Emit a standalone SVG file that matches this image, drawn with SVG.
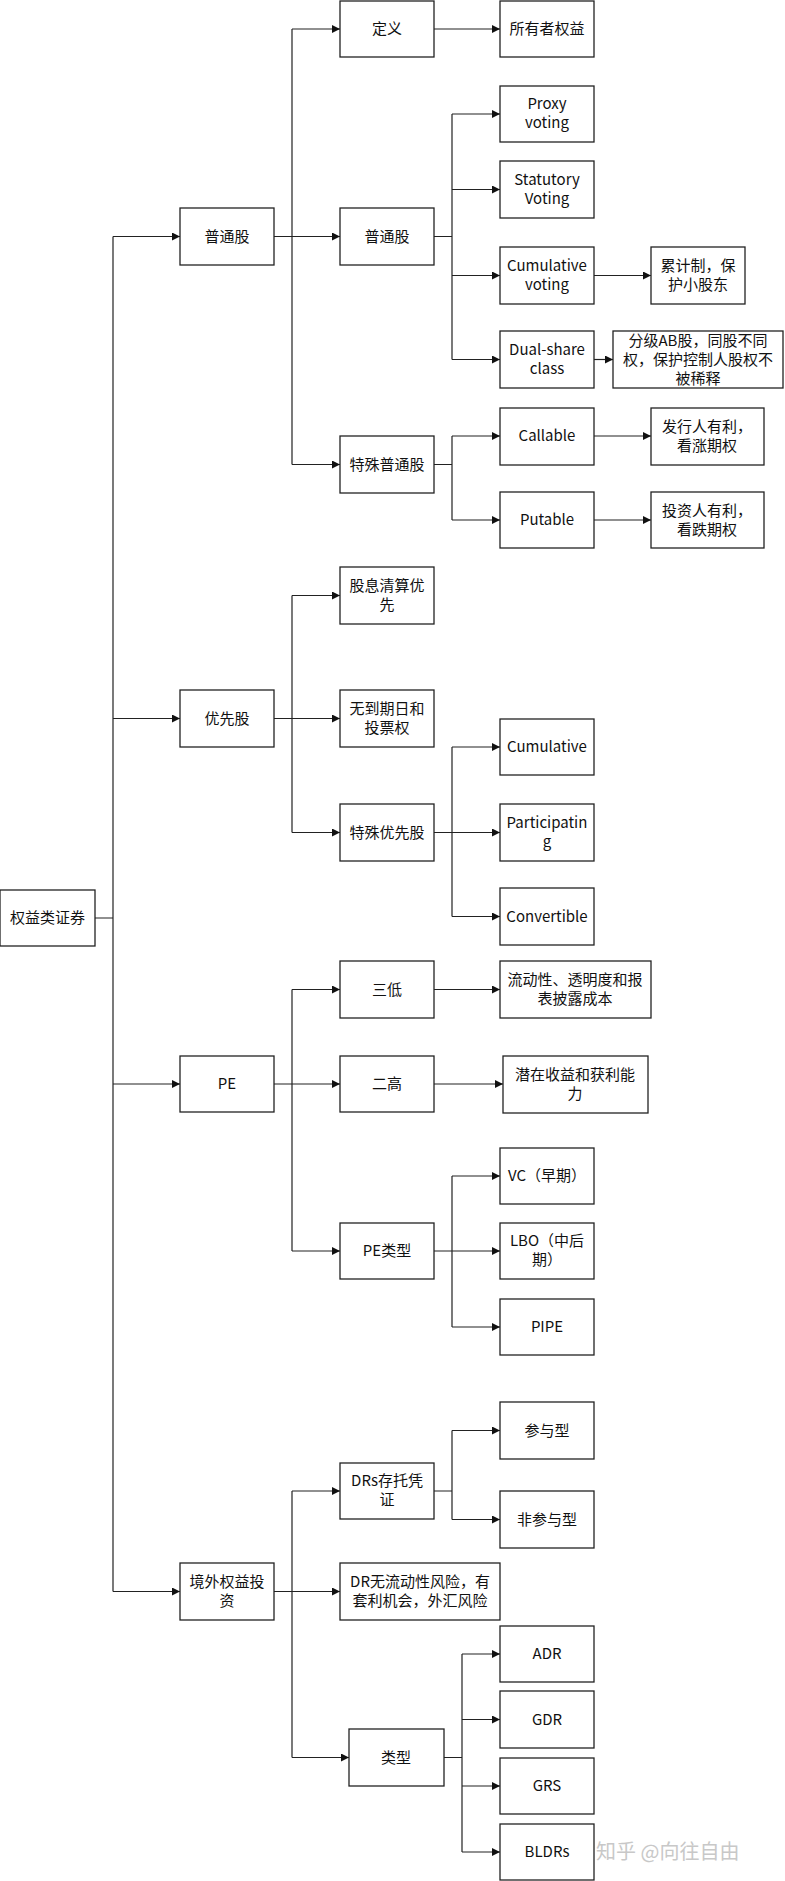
<svg xmlns="http://www.w3.org/2000/svg" width="785" height="1881" viewBox="0 0 785 1881">
<style>
rect{fill:#fff;stroke:#222;stroke-width:1.3}
text{font-family:"Microsoft YaHei","Noto Sans CJK SC","Noto Sans",sans-serif;font-size:15px;fill:#111;text-anchor:middle}
.c path{fill:none;stroke:#222;stroke-width:1.2}
.wm{fill:#c8c8c8;font-size:20px;text-anchor:start}
</style>
<defs><marker id="a" viewBox="0 0 10 10" refX="10" refY="5" markerWidth="8" markerHeight="8" markerUnits="userSpaceOnUse" orient="auto"><path d="M0,0L10,5L0,10z" fill="#111"/></marker></defs>
<rect x="-10" y="-10" width="805" height="1901" style="stroke:none"/>
<g class="c">
<path d="M95,918H113M113,236.5V1591.5"/>
<path d="M113,236.5H180" marker-end="url(#a)"/><path d="M113,718.5H180" marker-end="url(#a)"/><path d="M113,1084H180" marker-end="url(#a)"/><path d="M113,1591.5H180" marker-end="url(#a)"/>
<path d="M274,236.5H292M292,29V464.5"/>
<path d="M292,29H340" marker-end="url(#a)"/><path d="M292,236.5H340" marker-end="url(#a)"/><path d="M292,464.5H340" marker-end="url(#a)"/>
<path d="M434,29H500" marker-end="url(#a)"/>
<path d="M434,236.5H452M452,114V359.5"/>
<path d="M452,114H500" marker-end="url(#a)"/><path d="M452,189.5H500" marker-end="url(#a)"/><path d="M452,275.5H500" marker-end="url(#a)"/><path d="M452,359.5H500" marker-end="url(#a)"/>
<path d="M594,275.5H651" marker-end="url(#a)"/><path d="M594,359.5H613" marker-end="url(#a)"/>
<path d="M434,464.5H452M452,436V520"/>
<path d="M452,436H500" marker-end="url(#a)"/><path d="M452,520H500" marker-end="url(#a)"/>
<path d="M594,436H651" marker-end="url(#a)"/><path d="M594,520H651" marker-end="url(#a)"/>
<path d="M274,718.5H292M292,595.5V832.5"/>
<path d="M292,595.5H340" marker-end="url(#a)"/><path d="M292,718.5H340" marker-end="url(#a)"/><path d="M292,832.5H340" marker-end="url(#a)"/>
<path d="M434,832.5H452M452,747V916.5"/>
<path d="M452,747H500" marker-end="url(#a)"/><path d="M452,832.5H500" marker-end="url(#a)"/><path d="M452,916.5H500" marker-end="url(#a)"/>
<path d="M274,1084H292M292,989.5V1251"/>
<path d="M292,989.5H340" marker-end="url(#a)"/><path d="M292,1084H340" marker-end="url(#a)"/><path d="M292,1251H340" marker-end="url(#a)"/>
<path d="M434,989.5H500" marker-end="url(#a)"/><path d="M434,1084H503" marker-end="url(#a)"/>
<path d="M434,1251H452M452,1176V1327"/>
<path d="M452,1176H500" marker-end="url(#a)"/><path d="M452,1251H500" marker-end="url(#a)"/><path d="M452,1327H500" marker-end="url(#a)"/>
<path d="M274,1591.5H292M292,1491V1757.5"/>
<path d="M292,1491H340" marker-end="url(#a)"/><path d="M292,1591.5H340" marker-end="url(#a)"/><path d="M292,1757.5H349" marker-end="url(#a)"/>
<path d="M434,1491H452M452,1430.5V1519.5"/>
<path d="M452,1430.5H500" marker-end="url(#a)"/><path d="M452,1519.5H500" marker-end="url(#a)"/>
<path d="M444,1757.5H462M462,1654V1852"/>
<path d="M462,1654H500" marker-end="url(#a)"/><path d="M462,1719.5H500" marker-end="url(#a)"/><path d="M462,1786H500" marker-end="url(#a)"/><path d="M462,1852H500" marker-end="url(#a)"/>
</g>
<g id="root"><rect x="0" y="890" width="95" height="56"/><text x="47.5" y="923">权益类证券</text></g>
<g id="n1"><rect x="180" y="208" width="94" height="57"/><text x="227" y="242">普通股</text></g>
<g id="n11"><rect x="340" y="1" width="94" height="56"/><text x="387" y="34">定义</text></g>
<g id="n111"><rect x="500" y="1" width="94" height="56"/><text x="547" y="34">所有者权益</text></g>
<g id="n12"><rect x="340" y="208" width="94" height="57"/><text x="387" y="242">普通股</text></g>
<g id="proxy"><rect x="500" y="86" width="94" height="56"/><text x="547" y="109">Proxy</text><text x="547" y="128">voting</text></g>
<g id="stat"><rect x="500" y="161" width="94" height="57"/><text x="547" y="185">Statutory</text><text x="547" y="204">Voting</text></g>
<g id="cumv"><rect x="500" y="247" width="94" height="57"/><text x="547" y="271">Cumulative</text><text x="547" y="290">voting</text></g>
<g id="cumv2"><rect x="651" y="247" width="94" height="57"/><text x="698" y="271">累计制，保</text><text x="698" y="290">护小股东</text></g>
<g id="dual"><rect x="500" y="331" width="94" height="57"/><text x="547" y="355">Dual-share</text><text x="547" y="374">class</text></g>
<g id="dual2"><rect x="613" y="331" width="170" height="57"/><text x="698" y="346">分级AB股，同股不同</text><text x="698" y="365">权，保护控制人股权不</text><text x="698" y="384">被稀释</text></g>
<g id="n13"><rect x="340" y="436" width="94" height="57"/><text x="387" y="470">特殊普通股</text></g>
<g id="call"><rect x="500" y="408" width="94" height="57"/><text x="547" y="441">Callable</text></g>
<g id="call2"><rect x="651" y="408" width="113" height="57"/><text x="707" y="432">发行人有利，</text><text x="707" y="451">看涨期权</text></g>
<g id="put"><rect x="500" y="492" width="94" height="56"/><text x="547" y="525">Putable</text></g>
<g id="put2"><rect x="651" y="492" width="113" height="56"/><text x="707" y="516">投资人有利，</text><text x="707" y="535">看跌期权</text></g>
<g id="n2"><rect x="180" y="690" width="94" height="57"/><text x="227" y="724">优先股</text></g>
<g id="n21"><rect x="340" y="567" width="94" height="57"/><text x="387" y="591">股息清算优</text><text x="387" y="610">先</text></g>
<g id="n22"><rect x="340" y="690" width="94" height="57"/><text x="387" y="714">无到期日和</text><text x="387" y="733">投票权</text></g>
<g id="n23"><rect x="340" y="804" width="94" height="57"/><text x="387" y="838">特殊优先股</text></g>
<g id="pcum"><rect x="500" y="719" width="94" height="56"/><text x="547" y="752">Cumulative</text></g>
<g id="ppar"><rect x="500" y="804" width="94" height="57"/><text x="547" y="828">Participatin</text><text x="547" y="847">g</text></g>
<g id="pconv"><rect x="500" y="888" width="94" height="57"/><text x="547" y="922">Convertible</text></g>
<g id="n3"><rect x="180" y="1056" width="94" height="56"/><text x="227" y="1089">PE</text></g>
<g id="n31"><rect x="340" y="961" width="94" height="57"/><text x="387" y="995">三低</text></g>
<g id="n311"><rect x="500" y="961" width="151" height="57"/><text x="575" y="985">流动性、透明度和报</text><text x="575" y="1004">表披露成本</text></g>
<g id="n32"><rect x="340" y="1056" width="94" height="56"/><text x="387" y="1089">二高</text></g>
<g id="n321"><rect x="503" y="1056" width="145" height="57"/><text x="575" y="1080">潜在收益和获利能</text><text x="575" y="1099">力</text></g>
<g id="n33"><rect x="340" y="1223" width="94" height="56"/><text x="387" y="1256">PE类型</text></g>
<g id="vc"><rect x="500" y="1148" width="94" height="56"/><text x="547" y="1181">VC（早期）</text></g>
<g id="lbo"><rect x="500" y="1223" width="94" height="56"/><text x="547" y="1246">LBO（中后</text><text x="547" y="1265">期）</text></g>
<g id="pipe"><rect x="500" y="1299" width="94" height="56"/><text x="547" y="1332">PIPE</text></g>
<g id="n4"><rect x="180" y="1563" width="94" height="57"/><text x="227" y="1587">境外权益投</text><text x="227" y="1606">资</text></g>
<g id="n41"><rect x="340" y="1463" width="94" height="56"/><text x="387" y="1486">DRs存托凭</text><text x="387" y="1505">证</text></g>
<g id="n411"><rect x="500" y="1402" width="94" height="57"/><text x="547" y="1436">参与型</text></g>
<g id="n412"><rect x="500" y="1491" width="94" height="57"/><text x="547" y="1525">非参与型</text></g>
<g id="n42"><rect x="340" y="1563" width="160" height="57"/><text x="420" y="1587">DR无流动性风险，有</text><text x="420" y="1606">套利机会，外汇风险</text></g>
<g id="n43"><rect x="349" y="1729" width="95" height="57"/><text x="396" y="1763">类型</text></g>
<g id="adr"><rect x="500" y="1626" width="94" height="56"/><text x="547" y="1659">ADR</text></g>
<g id="gdr"><rect x="500" y="1691" width="94" height="57"/><text x="547" y="1725">GDR</text></g>
<g id="grs"><rect x="500" y="1758" width="94" height="56"/><text x="547" y="1791">GRS</text></g>
<g id="bldr"><rect x="500" y="1824" width="94" height="56"/><text x="547" y="1857">BLDRs</text></g>
<text class="wm" x="596" y="1859">知乎 @向往自由</text>
</svg>
